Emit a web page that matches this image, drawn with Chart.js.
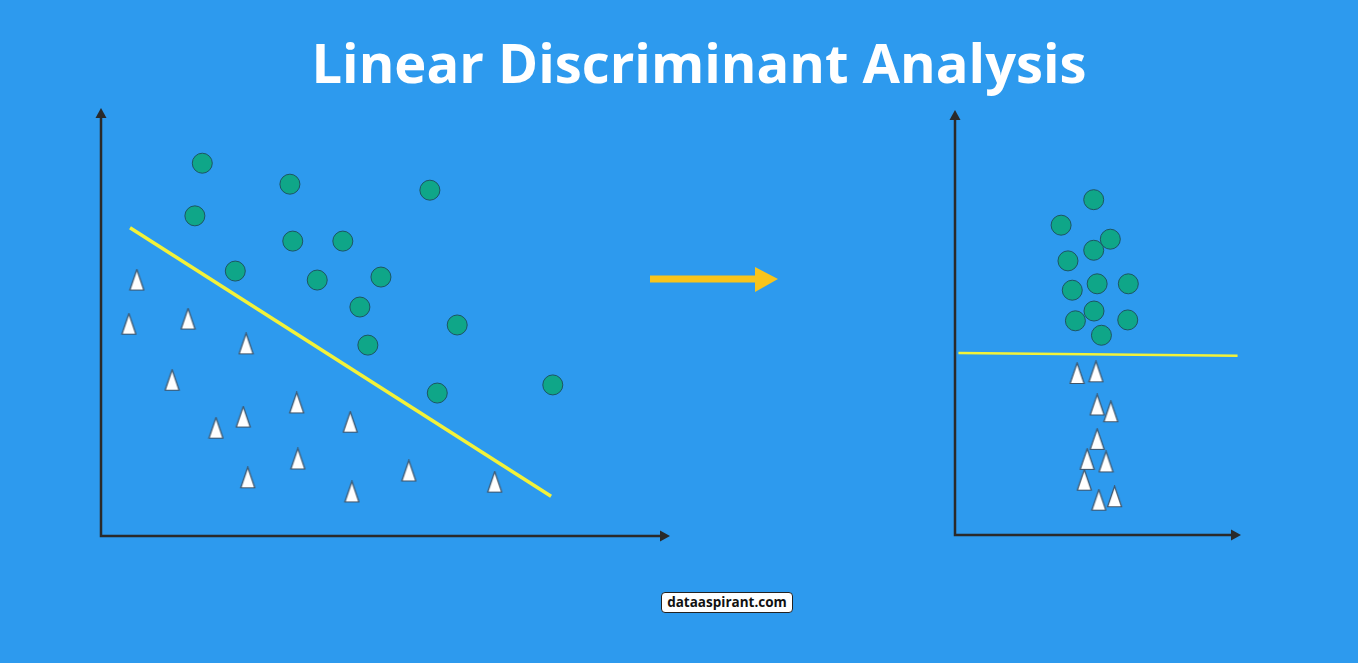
<!DOCTYPE html>
<html>
<head>
<meta charset="utf-8">
<script src="https://cdn.jsdelivr.net/npm/chart.js@4"></script>
<style>
  html, body { margin: 0; padding: 0; }
  body { width: 1358px; height: 663px; background: #2d9aee; position: relative; overflow: hidden; font-family: "Open Sans", sans-serif; }
  #title { position: absolute; left: 699px; top: 35px; transform: translateX(-50%); white-space: nowrap;
           color: #fff; font-weight: 700; font-size: 54.3px; line-height: 54px; }
  #before { position: absolute; left: 80px; top: 90px; width: 610px; height: 470px; }
  #after { position: absolute; left: 940px; top: 95px; width: 315px; height: 460px; }
  #arrow { position: absolute; left: 645px; top: 262px; }
  #badge { position: absolute; left: 661px; top: 592px; width: 132px; height: 21px; box-sizing: border-box;
           background: #fff; border: 1px solid #222; border-radius: 4px; color: #111; font-weight: 700;
           font-size: 13.5px; line-height: 19px; text-align: center; }
</style>
</head>
<body>
<div id="title">Linear Discriminant Analysis</div>
<div id="before"><canvas id="beforeChart"></canvas></div>
<div id="after"><canvas id="afterChart"></canvas></div>
<svg id="arrow" width="140" height="36">
  <line x1="5" y1="17" x2="115" y2="17" stroke="#f8c41b" stroke-width="7"/>
  <polygon points="110,5 133,17 110,30" fill="#f8c41b"/>
</svg>
<div id="badge">dataaspirant.com</div>

<script>
// before projection: raw 2D points
const classACircles = [
    { x: 1.78, y: 8.71 }, { x: 3.32, y: 8.22 }, { x: 5.78, y: 8.08 }, { x: 1.65, y: 7.48 },
    { x: 3.37, y: 6.89 }, { x: 4.25, y: 6.89 }, { x: 2.36, y: 6.19 }, { x: 3.80, y: 5.98 },
    { x: 4.92, y: 6.05 }, { x: 4.55, y: 5.35 }, { x: 6.26, y: 4.93 }, { x: 4.69, y: 4.46 },
    { x: 5.91, y: 3.34 }, { x: 7.94, y: 3.53 }
];
const classBTriangles = [
    { x: 0.63, y: 5.98 }, { x: 0.49, y: 4.95 }, { x: 1.53, y: 5.07 }, { x: 2.55, y: 4.49 },
    { x: 1.25, y: 3.64 }, { x: 2.02, y: 2.52 }, { x: 2.50, y: 2.78 }, { x: 3.44, y: 3.11 },
    { x: 4.38, y: 2.66 }, { x: 3.46, y: 1.80 }, { x: 2.58, y: 1.36 }, { x: 4.41, y: 1.03 },
    { x: 5.41, y: 1.52 }, { x: 6.92, y: 1.26 }
];
const boundaryBefore = [{ x: 0.51, y: 7.20 }, { x: 7.91, y: 0.93 }];

// after projection
const classACirclesAfter = [
    { x: 4.85, y: 7.89 }, { x: 3.71, y: 7.29 }, { x: 5.43, y: 6.96 }, { x: 4.85, y: 6.70 },
    { x: 3.95, y: 6.45 }, { x: 4.97, y: 5.91 }, { x: 6.06, y: 5.91 }, { x: 4.10, y: 5.76 },
    { x: 4.86, y: 5.27 }, { x: 4.21, y: 5.04 }, { x: 6.04, y: 5.06 }, { x: 5.12, y: 4.70 }
];
const classBTrianglesAfter = [
    { x: 4.27, y: 3.80 }, { x: 4.93, y: 3.84 }, { x: 4.97, y: 3.06 }, { x: 5.45, y: 2.90 },
    { x: 4.97, y: 2.25 }, { x: 4.62, y: 1.78 }, { x: 5.28, y: 1.72 }, { x: 4.52, y: 1.29 },
    { x: 5.03, y: 0.82 }, { x: 5.58, y: 0.90 }
];
const boundaryAfter = [{ x: 0.12, y: 4.28 }, { x: 9.88, y: 4.22 }];

// tall narrow triangle marker
function makeTriangle() {
    const c = document.createElement('canvas');
    c.width = 17;
    c.height = 23;
    const g = c.getContext('2d');
    g.beginPath();
    g.moveTo(8.5, 1);
    g.lineTo(15.5, 21.5);
    g.lineTo(1.5, 21.5);
    g.closePath();
    g.fillStyle = '#ffffff';
    g.fill();
    g.strokeStyle = '#3f5468';
    g.lineWidth = 1.2;
    g.stroke();
    return c;
}
const triangleImg = makeTriangle();

// axes with arrow heads drawn at x=0 / y=0
const arrowAxes = {
    id: 'arrowAxes',
    afterDraw(chart) {
        const g = chart.ctx;
        const xs = chart.scales.x, ys = chart.scales.y;
        const x0 = xs.getPixelForValue(0), y0 = ys.getPixelForValue(0);
        const x1 = xs.getPixelForValue(xs.max), y1 = ys.getPixelForValue(ys.max);
        g.save();
        g.strokeStyle = '#2a2a2a';
        g.fillStyle = '#2a2a2a';
        g.lineWidth = 2.5;
        g.beginPath();
        g.moveTo(x0, y1 + 6);
        g.lineTo(x0, y0);
        g.lineTo(x1 - 6, y0);
        g.stroke();
        g.beginPath();
        g.moveTo(x0, y1);
        g.lineTo(x0 - 5.5, y1 + 10);
        g.lineTo(x0 + 5.5, y1 + 10);
        g.closePath();
        g.fill();
        g.beginPath();
        g.moveTo(x1, y0);
        g.lineTo(x1 - 10, y0 - 5.5);
        g.lineTo(x1 - 10, y0 + 5.5);
        g.closePath();
        g.fill();
        g.restore();
    }
};

function buildChart(canvasId, circles, triangles, boundary, padding, lineWidth) {
    return new Chart(document.getElementById(canvasId), {
        type: 'scatter',
        data: {
            datasets: [
                {
                    label: 'boundary',
                    data: boundary,
                    showLine: true,
                    borderColor: '#f2f23a',
                    borderWidth: lineWidth,
                    pointRadius: 0,
                    clip: false
                },
                {
                    label: 'class A',
                    data: circles,
                    pointRadius: 10,
                    pointBackgroundColor: '#0fa688',
                    pointBorderColor: '#1d5560',
                    pointBorderWidth: 1,
                    clip: false
                },
                {
                    label: 'class B',
                    data: triangles,
                    pointStyle: triangleImg,
                    clip: false
                }
            ]
        },
        options: {
            responsive: true,
            maintainAspectRatio: false,
            animation: false,
            layout: { padding: padding },
            plugins: { legend: { display: false }, tooltip: { enabled: false } },
            scales: {
                x: { display: false, min: 0, max: 10 },
                y: { display: false, min: 0, max: 10 }
            }
        },
        plugins: [arrowAxes]
    });
}

buildChart('beforeChart', classACircles, classBTriangles, boundaryBefore,
    { left: 21, right: 20, top: 18, bottom: 24 }, 3.5);
buildChart('afterChart', classACirclesAfter, classBTrianglesAfter, boundaryAfter,
    { left: 15, right: 14, top: 15, bottom: 20 }, 2.5);
</script>
</body>
</html>
